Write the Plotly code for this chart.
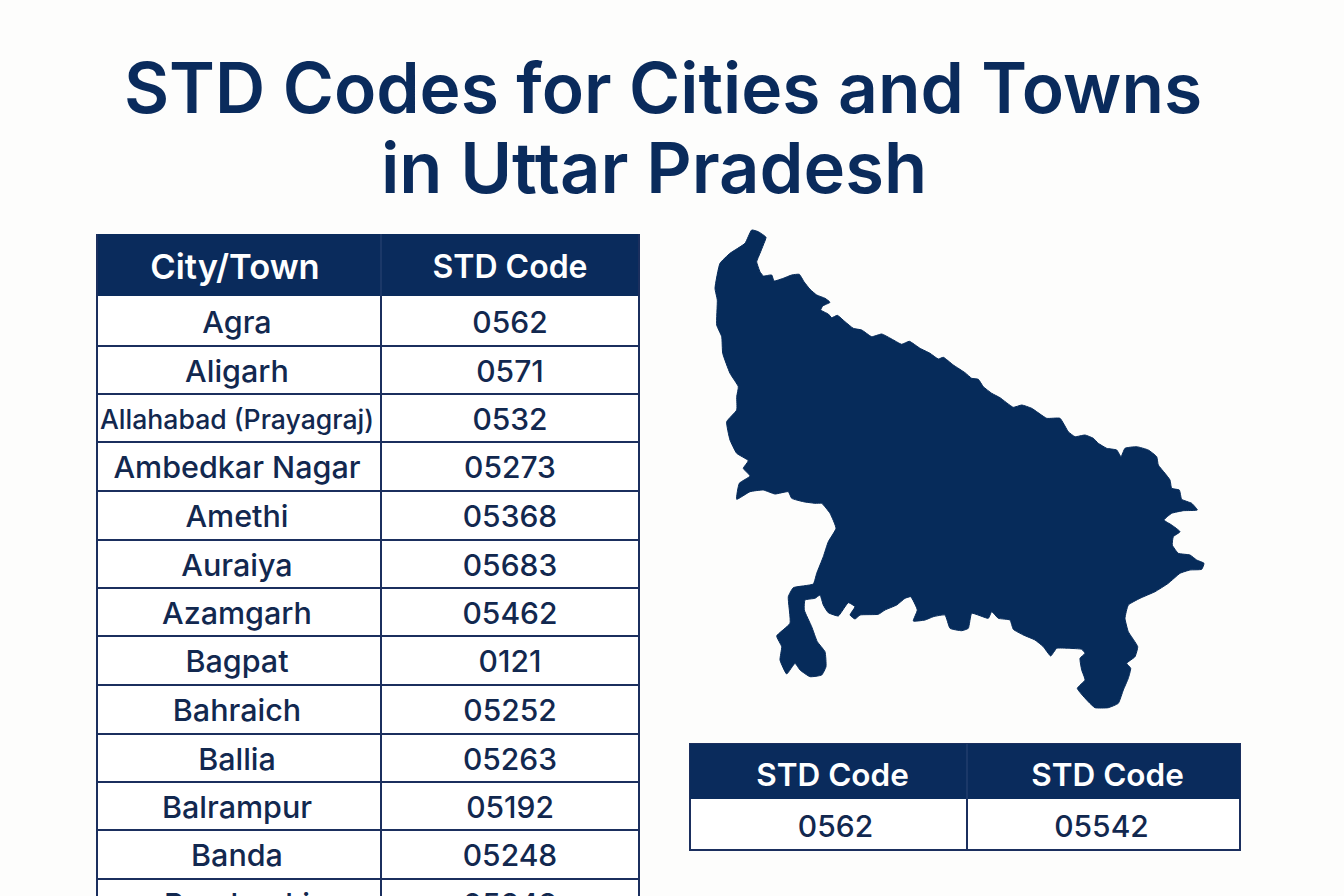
import plotly.graph_objects as go

# ---- data ----
title_lines = ["STD Codes for Cities and Towns", "in Uttar Pradesh"]
table_headers = ["City/Town", "STD Code"]
cities = ["Agra", "Aligarh", "Allahabad (Prayagraj)", "Ambedkar Nagar", "Amethi", "Auraiya",
          "Azamgarh", "Bagpat", "Bahraich", "Ballia", "Balrampur", "Banda", "Barabanki"]
codes = ["0562", "0571", "0532", "05273", "05368", "05683",
         "05462", "0121", "05252", "05263", "05192", "05248", "05248"]
side_headers = ["STD Code", "STD Code"]
side_codes = ["0562", "05542"]

# state outline
map_x = [751.7,758.3,766,763.3,760,756.7,760,763.3,771.7,774,783.3,791.7,799.3,804,810,816.7,825,830,822.7,820.7,828.3,831.7,837.3,845,853.3,861.7,871.7,881.7,891.7,901.7,909.3,920,930,938.3,943.3,953.3,965,971.7,978.3,983.3,991.7,1000,1013.3,1021.7,1031.7,1046.7,1060,1068.3,1075,1085,1093.3,1098.3,1106.7,1116.7,1121,1125,1136.7,1148.3,1156.7,1158.3,1165,1170,1171.7,1179.3,1181.7,1191.7,1197.3,1183.3,1171.7,1164,1171.7,1180,1173.3,1172.3,1178.3,1190,1196.7,1204,1201.7,1190,1180,1168.3,1155,1140,1128.3,1125,1128.3,1137.7,1135,1126.7,1130.7,1128.3,1123.3,1118.3,1108.3,1095,1088.3,1077.3,1085,1081.7,1080,1085,1081.7,1068.3,1056.7,1050.7,1043.3,1035,1023.3,1013.3,1010,998.3,991.7,988.3,971.7,968.3,961.7,950,945,933.3,925,913.3,917.3,910.7,905,896.7,885,878.3,860,855,850,855,848.3,841.7,838.3,828.3,823.3,820,815,805,804.3,811.7,817.3,825,826,821.7,810,800,795,786.7,780,781.7,776.7,790,788.3,793.3,813.3,816.7,823.3,828.3,836,830,821.7,815,803.3,791.7,788.3,775,763.3,750,736.7,739.3,750,743.3,748.3,736.7,730,726.7,736.7,736.7,738.3,730,722.7,721.7,716.7,717.3,715,720,730,745,751.7]
map_y = [230,231.7,237.3,245,253.3,261.7,271.7,276,275,281,278.3,275,274.3,281.7,289.3,295,298.3,302.3,306,310,314,317.7,315.3,321.7,328.3,330,336.7,334,339,344.3,341.3,348.3,353.3,359,357.3,365,372.7,378.3,379.3,386.7,393.3,397.7,407.3,405,408.3,418.3,418.3,431.7,436.7,435,438.3,443.3,448.3,450,456.7,448.3,446.7,450,456.7,465,473.3,480,488.3,490,499.3,503.3,510,510.7,513.3,520,525,531.7,536.7,545,553.3,555,560,563.3,569.3,570,573.3,583.3,591.7,598.3,605,618.3,631.7,646.7,656.7,663.3,668.3,678.3,690,703.3,707.7,707.7,701.7,688.3,680,670,658.3,653.3,649.3,648.3,648.3,656,646.7,640,635,629.3,620,618.3,611.7,618.3,613.3,628.3,630.7,628.3,615,616.7,620,621,610,596.7,598.3,605,610,614.3,615,619,615,606.7,602.7,611.7,616,612.7,605,595,598.3,600,610,626.7,641.7,651.7,666.7,675,676.7,670,663.3,674,660,646.7,636,623.3,596.7,587.7,584,573.3,556.7,541.7,528.3,513.3,503.3,503.3,501.7,498.3,491.7,494,490,491.7,499.3,483.3,476,468.3,460.7,453.3,440,421.7,410,396.7,386.7,373.3,353.3,336.7,325,300,288.3,263.3,253.3,243.3,230]

# ---- layout constants ----
NAVY = "#0a2b5c"
INK = "#12284f"
BG = "#fdfdfc"
LINE = "#1b2f5e"
FONT = "Inter"

col_edges = [97, 381, 639]
row_edges = [234, 296, 346, 394, 442, 491, 540, 588, 636, 685, 734, 782, 830, 879, 928]
side_cols = [690, 967, 1240]
side_rows = [744, 799, 850]
TEXT_DY = 4

fig = go.Figure()
shapes = []

def rect(x0, x1, y0, y1, fill, line=None, w=0):
    shapes.append(dict(type="rect", xref="x", yref="y", x0=x0, x1=x1, y0=y0, y1=y1,
                       fillcolor=fill, line=dict(color=line or fill, width=w), layer="below"))

def hline(x0, x1, y, w=2):
    shapes.append(dict(type="line", xref="x", yref="y", x0=x0, x1=x1, y0=y, y1=y,
                       line=dict(color=LINE, width=w), layer="above"))

def vline(x, y0, y1, color=LINE, w=2):
    shapes.append(dict(type="line", xref="x", yref="y", x0=x, x1=x, y0=y0, y1=y1,
                       line=dict(color=color, width=w), layer="above"))

def text_trace(xs, ys, texts, sizes, colors, weight=500):
    fig.add_trace(go.Scatter(x=xs, y=ys, text=texts, mode="text", textposition="middle center",
                             hoverinfo="skip", cliponaxis=True, showlegend=False,
                             textfont=dict(family=FONT, size=sizes, color=colors, weight=weight)))

# main table
rect(col_edges[0], col_edges[2], row_edges[0], row_edges[-1], "#ffffff")
rect(col_edges[0], col_edges[2], row_edges[0], row_edges[1], NAVY)
for y in row_edges[2:-1]:
    hline(col_edges[0], col_edges[2], y)
for x in col_edges[0], col_edges[2]:
    vline(x, row_edges[0], row_edges[-1])
vline(col_edges[1], row_edges[1], row_edges[-1])
vline(col_edges[1], row_edges[0], row_edges[1], color="#2c4674", w=1)

cx = [(col_edges[0] + col_edges[1]) / 2 - 4, (col_edges[1] + col_edges[2]) / 2]
text_trace(cx, [(row_edges[0] + row_edges[1]) / 2 + TEXT_DY + 1] * 2, table_headers, [34.5, 32], "#ffffff", 600)
mid = [(a + b) / 2 + TEXT_DY for a, b in zip(row_edges[1:-1], row_edges[2:])]
city_sizes = [26.6 if len(c) > 20 else 30.5 for c in cities]
text_trace([cx[0] + 2] * len(cities), mid, cities, city_sizes, INK, 500)
text_trace([cx[1]] * len(codes), mid, codes, 30, INK, 500)

# side table
rect(side_cols[0], side_cols[2], side_rows[0], side_rows[2], "#ffffff", LINE, 2)
rect(side_cols[0], side_cols[2], side_rows[0], side_rows[1], NAVY)
vline(side_cols[1], side_rows[1], side_rows[2])
vline(side_cols[1], side_rows[0], side_rows[1], color="#2c4674", w=1)
scx = [(side_cols[0] + side_cols[1]) / 2 + 4, (side_cols[1] + side_cols[2]) / 2 + 4]
code_x = [(side_cols[0] + side_cols[1]) / 2 + 7, (side_cols[1] + side_cols[2]) / 2 - 2]
text_trace(scx, [(side_rows[0] + side_rows[1]) / 2 + 7] * 2, side_headers, 31.5, "#ffffff", 600)
text_trace(code_x, [(side_rows[1] + side_rows[2]) / 2 + 5] * 2, side_codes, 30, INK, 500)

# map
fig.add_trace(go.Scatter(x=map_x, y=map_y, mode="lines", fill="toself", fillcolor="#062b5a",
                         line=dict(color="#062b5a", width=1, shape="spline", smoothing=0.4),
                         hoverinfo="skip", showlegend=False))

# title
text_trace([663, 654], [96, 175], title_lines, [69.5, 70.5], NAVY, 600)

fig.update_layout(
    width=1344, height=896, autosize=False, margin=dict(l=0, r=0, t=0, b=0),
    paper_bgcolor=BG, plot_bgcolor=BG, shapes=shapes, showlegend=False,
    xaxis=dict(range=[0, 1344], visible=False, fixedrange=True),
    yaxis=dict(range=[896, 0], visible=False, fixedrange=True),
)
fig.write_html("out.html", config={"displayModeBar": False},
               post_script="document.body.style.margin='0';document.body.style.background='#fdfdfc';")
